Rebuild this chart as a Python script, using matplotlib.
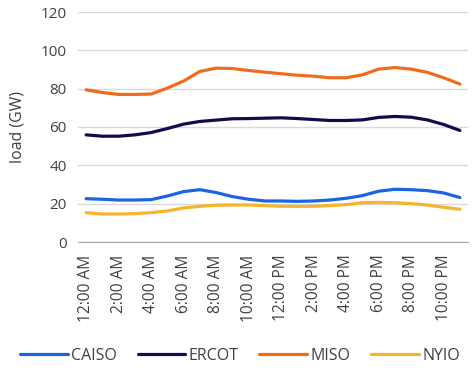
import numpy as np
import matplotlib
matplotlib.use('Agg')
import matplotlib.pyplot as plt

plt.rcParams['font.family'] = ['Open Sans', 'DejaVu Sans']

# hourly load (GW)
hours = list(range(24))
tick_labels = ['12:00 AM', '2:00 AM', '4:00 AM', '6:00 AM', '8:00 AM', '10:00 AM',
               '12:00 PM', '2:00 PM', '4:00 PM', '6:00 PM', '8:00 PM', '10:00 PM']
caiso = [22.6, 22.3, 21.9, 21.9, 22.1, 24.0, 26.3, 27.3, 25.8, 23.7, 22.3, 21.4,
         21.4, 21.2, 21.4, 21.9, 22.8, 24.2, 26.5, 27.5, 27.3, 26.8, 25.6, 23.2]
ercot = [55.9, 55.2, 55.2, 55.9, 57.1, 59.2, 61.5, 62.9, 63.6, 64.3, 64.4, 64.6,
         64.8, 64.4, 63.9, 63.4, 63.4, 63.7, 65.0, 65.5, 65.1, 63.7, 61.3, 58.2]
miso = [79.4, 78.0, 77.0, 77.0, 77.2, 80.3, 84.0, 89.0, 90.7, 90.5, 89.5, 88.6,
        87.8, 87.0, 86.5, 85.7, 85.7, 87.2, 90.2, 91.0, 90.2, 88.5, 85.7, 82.4]
nyio = [15.3, 14.6, 14.6, 14.8, 15.3, 16.2, 17.8, 18.6, 19.2, 19.3, 19.3, 19.0,
        18.6, 18.6, 18.6, 19.0, 19.5, 20.5, 20.7, 20.5, 20.0, 19.3, 18.1, 17.1]

series = [('CAISO', caiso, '#1a66e0'), ('ERCOT', ercot, '#0d0d4d'),
          ('MISO', miso, '#ee6c1c'), ('NYIO', nyio, '#f6b52d')]

txt = '#404040'
fig = plt.figure(figsize=(4.74, 3.72), dpi=100)
ax = fig.add_axes([78/474, 1-242/372, 390/474, 230/372])

for name, vals, col in series:
    ax.plot(hours, vals, color=col, lw=2.3, label=name, solid_capstyle='round')

ax.set_xlim(-0.5, 23.5)
ax.set_ylim(0, 120)
ax.set_yticks(range(0, 121, 20))
ax.set_xticks(hours[::2])
ax.set_xticklabels(tick_labels, rotation=90)
ax.yaxis.grid(True, color='#d9d9d9', lw=1)
ax.set_axisbelow(True)
for s in ['top', 'right', 'left']:
    ax.spines[s].set_visible(False)
ax.spines['bottom'].set_color('#a6a6a6')
ax.tick_params(axis='y', length=0, labelsize=11, colors=txt, pad=8)
ax.tick_params(axis='x', length=0, labelsize=11.2, colors=txt, pad=9)
ax.set_ylabel('load (GW)', fontsize=11.4, color=txt)
ax.yaxis.set_label_coords(-52/390, 0.5)

ax.legend(loc='center', bbox_to_anchor=(240/474, 1-356/372), bbox_transform=fig.transFigure,
          ncol=4, frameon=False, fontsize=11.5, handlelength=3.0, handletextpad=0.2,
          columnspacing=1.3, labelcolor=txt)

fig.savefig('out.png', dpi=100)
